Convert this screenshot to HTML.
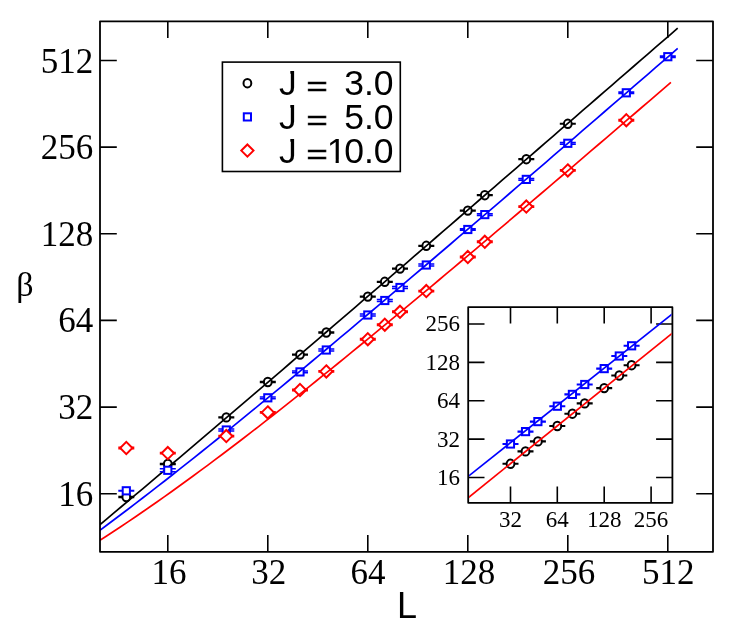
<!DOCTYPE html><html><head><meta charset="utf-8"><style>html,body{margin:0;padding:0;background:#fff;width:747px;height:638px;overflow:hidden}svg{display:block}</style></head><body><svg width="747" height="638" viewBox="0 0 747 638">
<rect width="747" height="638" fill="#fff"/>
<defs><clipPath id="cm"><rect x="100.0" y="21.3" width="613.0" height="530.5"/></clipPath><clipPath id="ci"><rect x="469.09999999999997" y="308.09999999999997" width="202.39999999999998" height="193.8"/></clipPath></defs>
<path d="M118.3,496.6h16M118.3,497.4h16" stroke="#000" stroke-width="1.5" fill="none"/>
<ellipse cx="126.3" cy="497.0" rx="3.9" ry="4.2" stroke="#000" stroke-width="2.0" fill="#fff"/>
<path d="M159.8,463.6h16M159.8,464.4h16" stroke="#000" stroke-width="1.5" fill="none"/>
<ellipse cx="167.8" cy="464.0" rx="3.9" ry="4.2" stroke="#000" stroke-width="2.0" fill="#fff"/>
<path d="M218.3,417.0h16M218.3,417.8h16" stroke="#000" stroke-width="1.5" fill="none"/>
<ellipse cx="226.3" cy="417.4" rx="3.9" ry="4.2" stroke="#000" stroke-width="2.0" fill="#fff"/>
<path d="M259.8,381.6h16M259.8,382.4h16" stroke="#000" stroke-width="1.5" fill="none"/>
<ellipse cx="267.8" cy="382.0" rx="3.9" ry="4.2" stroke="#000" stroke-width="2.0" fill="#fff"/>
<path d="M292.0,354.2h16M292.0,355.0h16" stroke="#000" stroke-width="1.5" fill="none"/>
<ellipse cx="300.0" cy="354.6" rx="3.9" ry="4.2" stroke="#000" stroke-width="2.0" fill="#fff"/>
<path d="M318.3,332.1h16M318.3,332.9h16" stroke="#000" stroke-width="1.5" fill="none"/>
<ellipse cx="326.3" cy="332.5" rx="3.9" ry="4.2" stroke="#000" stroke-width="2.0" fill="#fff"/>
<path d="M359.8,296.2h16M359.8,297.0h16" stroke="#000" stroke-width="1.5" fill="none"/>
<ellipse cx="367.8" cy="296.6" rx="3.9" ry="4.2" stroke="#000" stroke-width="2.0" fill="#fff"/>
<path d="M376.8,281.4h16M376.8,282.2h16" stroke="#000" stroke-width="1.5" fill="none"/>
<ellipse cx="384.8" cy="281.8" rx="3.9" ry="4.2" stroke="#000" stroke-width="2.0" fill="#fff"/>
<path d="M392.0,268.2h16M392.0,269.0h16" stroke="#000" stroke-width="1.5" fill="none"/>
<ellipse cx="400.0" cy="268.6" rx="3.9" ry="4.2" stroke="#000" stroke-width="2.0" fill="#fff"/>
<path d="M418.3,245.5h16M418.3,246.2h16" stroke="#000" stroke-width="1.5" fill="none"/>
<ellipse cx="426.3" cy="245.8" rx="3.9" ry="4.2" stroke="#000" stroke-width="2.0" fill="#fff"/>
<path d="M459.8,210.2h16M459.8,210.9h16" stroke="#000" stroke-width="1.5" fill="none"/>
<ellipse cx="467.8" cy="210.6" rx="3.9" ry="4.2" stroke="#000" stroke-width="2.0" fill="#fff"/>
<path d="M476.8,194.8h16M476.8,195.5h16" stroke="#000" stroke-width="1.5" fill="none"/>
<ellipse cx="484.8" cy="195.2" rx="3.9" ry="4.2" stroke="#000" stroke-width="2.0" fill="#fff"/>
<path d="M518.3,158.8h16M518.3,159.5h16" stroke="#000" stroke-width="1.5" fill="none"/>
<ellipse cx="526.3" cy="159.2" rx="3.9" ry="4.2" stroke="#000" stroke-width="2.0" fill="#fff"/>
<path d="M559.8,123.5h16M559.8,124.1h16" stroke="#000" stroke-width="1.5" fill="none"/>
<ellipse cx="567.8" cy="123.8" rx="3.9" ry="4.2" stroke="#000" stroke-width="2.0" fill="#fff"/>
<polyline clip-path="url(#cm)" fill="none" stroke-width="1.7" stroke-linejoin="round" stroke-linecap="butt" points="99.00,525.39 106.33,519.28 113.65,513.15 120.98,507.01 128.30,500.86 135.63,494.70 142.95,488.53 150.28,482.36 157.60,476.17 164.93,469.98 172.25,463.77 179.58,457.57 186.90,451.35 194.23,445.13 201.55,438.90 208.88,432.66 216.21,426.42 223.53,420.17 230.86,413.92 238.18,407.66 245.51,401.40 252.83,395.14 260.16,388.86 267.48,382.59 274.81,376.31 282.13,370.03 289.46,363.74 296.78,357.45 304.11,351.16 311.43,344.86 318.76,338.57 326.08,332.26 333.41,325.96 340.74,319.65 348.06,313.34 355.39,307.03 362.71,300.72 370.04,294.40 377.36,288.09 384.69,281.77 392.01,275.45 399.34,269.12 406.66,262.80 413.99,256.47 421.31,250.15 428.64,243.82 435.96,237.49 443.29,231.16 450.62,224.83 457.94,218.49 465.27,212.16 472.59,205.82 479.92,199.49 487.24,193.15 494.57,186.81 501.89,180.47 509.22,174.13 516.54,167.79 523.87,161.45 531.19,155.11 538.52,148.76 545.84,142.42 553.17,136.08 560.49,129.73 567.82,123.39 575.15,117.04 582.47,110.70 589.80,104.35 597.12,98.00 604.45,91.66 611.77,85.31 619.10,78.96 626.42,72.61 633.75,66.26 641.07,59.92 648.40,53.57 655.72,47.22 663.05,40.87 670.37,34.52 677.70,28.17" stroke="#000"/>
<path d="M118.3,490.5h16M118.3,491.1h16" stroke="#00f" stroke-width="1.5" fill="none"/>
<rect x="122.70" y="487.20" width="7.2" height="7.2" stroke="#00f" stroke-width="2.0" fill="#fff"/>
<path d="M159.8,468.8h16M159.8,471.8h16" stroke="#00f" stroke-width="1.5" fill="none"/>
<rect x="164.20" y="466.70" width="7.2" height="7.2" stroke="#00f" stroke-width="2.0" fill="#fff"/>
<path d="M218.3,429.1h16M218.3,430.9h16" stroke="#00f" stroke-width="1.5" fill="none"/>
<rect x="222.70" y="426.40" width="7.2" height="7.2" stroke="#00f" stroke-width="2.0" fill="#fff"/>
<path d="M259.8,396.9h16M259.8,398.7h16" stroke="#00f" stroke-width="1.5" fill="none"/>
<rect x="264.20" y="394.20" width="7.2" height="7.2" stroke="#00f" stroke-width="2.0" fill="#fff"/>
<path d="M292.0,371.0h16M292.0,372.8h16" stroke="#00f" stroke-width="1.5" fill="none"/>
<rect x="296.39" y="368.30" width="7.2" height="7.2" stroke="#00f" stroke-width="2.0" fill="#fff"/>
<path d="M318.3,349.1h16M318.3,350.9h16" stroke="#00f" stroke-width="1.5" fill="none"/>
<rect x="322.70" y="346.40" width="7.2" height="7.2" stroke="#00f" stroke-width="2.0" fill="#fff"/>
<path d="M359.8,314.1h16M359.8,315.9h16" stroke="#00f" stroke-width="1.5" fill="none"/>
<rect x="364.20" y="311.40" width="7.2" height="7.2" stroke="#00f" stroke-width="2.0" fill="#fff"/>
<path d="M376.8,299.6h16M376.8,301.4h16" stroke="#00f" stroke-width="1.5" fill="none"/>
<rect x="381.19" y="296.90" width="7.2" height="7.2" stroke="#00f" stroke-width="2.0" fill="#fff"/>
<path d="M392.0,286.6h16M392.0,288.4h16" stroke="#00f" stroke-width="1.5" fill="none"/>
<rect x="396.39" y="283.90" width="7.2" height="7.2" stroke="#00f" stroke-width="2.0" fill="#fff"/>
<path d="M418.3,264.1h16M418.3,265.9h16" stroke="#00f" stroke-width="1.5" fill="none"/>
<rect x="422.70" y="261.40" width="7.2" height="7.2" stroke="#00f" stroke-width="2.0" fill="#fff"/>
<path d="M459.8,228.7h16M459.8,230.3h16" stroke="#00f" stroke-width="1.5" fill="none"/>
<rect x="464.20" y="225.90" width="7.2" height="7.2" stroke="#00f" stroke-width="2.0" fill="#fff"/>
<path d="M476.8,213.8h16M476.8,215.4h16" stroke="#00f" stroke-width="1.5" fill="none"/>
<rect x="481.19" y="211.00" width="7.2" height="7.2" stroke="#00f" stroke-width="2.0" fill="#fff"/>
<path d="M518.3,178.6h16M518.3,180.2h16" stroke="#00f" stroke-width="1.5" fill="none"/>
<rect x="522.70" y="175.80" width="7.2" height="7.2" stroke="#00f" stroke-width="2.0" fill="#fff"/>
<path d="M559.8,142.5h16M559.8,144.2h16" stroke="#00f" stroke-width="1.5" fill="none"/>
<rect x="564.20" y="139.70" width="7.2" height="7.2" stroke="#00f" stroke-width="2.0" fill="#fff"/>
<path d="M618.3,92.0h16M618.3,93.6h16" stroke="#00f" stroke-width="1.5" fill="none"/>
<rect x="622.70" y="89.20" width="7.2" height="7.2" stroke="#00f" stroke-width="2.0" fill="#fff"/>
<path d="M659.8,55.9h16M659.8,57.6h16" stroke="#00f" stroke-width="1.5" fill="none"/>
<rect x="664.20" y="53.10" width="7.2" height="7.2" stroke="#00f" stroke-width="2.0" fill="#fff"/>
<polyline clip-path="url(#cm)" fill="none" stroke-width="1.7" stroke-linejoin="round" stroke-linecap="butt" points="99.00,530.96 106.33,525.52 113.65,520.04 120.98,514.52 128.30,508.97 135.63,503.38 142.95,497.76 150.28,492.11 157.60,486.43 164.93,480.71 172.25,474.97 179.58,469.20 186.90,463.40 194.23,457.58 201.55,451.73 208.88,445.87 216.21,439.97 223.53,434.06 230.86,428.13 238.18,422.17 245.51,416.20 252.83,410.21 260.16,404.21 267.48,398.18 274.81,392.14 282.13,386.09 289.46,380.02 296.78,373.94 304.11,367.85 311.43,361.74 318.76,355.62 326.08,349.49 333.41,343.35 340.74,337.20 348.06,331.04 355.39,324.87 362.71,318.69 370.04,312.50 377.36,306.31 384.69,300.10 392.01,293.89 399.34,287.67 406.66,281.45 413.99,275.22 421.31,268.98 428.64,262.74 435.96,256.49 443.29,250.24 450.62,243.98 457.94,237.72 465.27,231.45 472.59,225.18 479.92,218.90 487.24,212.62 494.57,206.34 501.89,200.05 509.22,193.76 516.54,187.47 523.87,181.17 531.19,174.87 538.52,168.57 545.84,162.27 553.17,155.96 560.49,149.65 567.82,143.34 575.15,137.02 582.47,130.71 589.80,124.39 597.12,118.07 604.45,111.75 611.77,105.43 619.10,99.10 626.42,92.77 633.75,86.45 641.07,80.12 648.40,73.79 655.72,67.46 663.05,61.12 670.37,54.79 677.70,48.46" stroke="#00f"/>
<path d="M118.3,447.3h16M118.3,448.7h16" stroke="#f00" stroke-width="1.5" fill="none"/>
<path d="M126.3,441.9L132.4,448.0L126.3,454.1L120.2,448.0Z" stroke="#f00" stroke-width="2.0" fill="#fff"/>
<path d="M159.8,452.4h16M159.8,453.8h16" stroke="#f00" stroke-width="1.5" fill="none"/>
<path d="M167.8,447.0L173.9,453.1L167.8,459.2L161.7,453.1Z" stroke="#f00" stroke-width="2.0" fill="#fff"/>
<path d="M218.3,435.4h16M218.3,436.8h16" stroke="#f00" stroke-width="1.5" fill="none"/>
<path d="M226.3,430.0L232.4,436.1L226.3,442.2L220.2,436.1Z" stroke="#f00" stroke-width="2.0" fill="#fff"/>
<path d="M259.8,411.7h16M259.8,413.1h16" stroke="#f00" stroke-width="1.5" fill="none"/>
<path d="M267.8,406.3L273.9,412.4L267.8,418.5L261.7,412.4Z" stroke="#f00" stroke-width="2.0" fill="#fff"/>
<path d="M292.0,389.3h16M292.0,390.7h16" stroke="#f00" stroke-width="1.5" fill="none"/>
<path d="M300.0,383.9L306.1,390.0L300.0,396.1L293.9,390.0Z" stroke="#f00" stroke-width="2.0" fill="#fff"/>
<path d="M318.3,370.7h16M318.3,372.1h16" stroke="#f00" stroke-width="1.5" fill="none"/>
<path d="M326.3,365.3L332.4,371.4L326.3,377.5L320.2,371.4Z" stroke="#f00" stroke-width="2.0" fill="#fff"/>
<path d="M359.8,338.5h16M359.8,339.9h16" stroke="#f00" stroke-width="1.5" fill="none"/>
<path d="M367.8,333.1L373.9,339.2L367.8,345.3L361.7,339.2Z" stroke="#f00" stroke-width="2.0" fill="#fff"/>
<path d="M376.8,324.0h16M376.8,325.4h16" stroke="#f00" stroke-width="1.5" fill="none"/>
<path d="M384.8,318.6L390.9,324.7L384.8,330.8L378.7,324.7Z" stroke="#f00" stroke-width="2.0" fill="#fff"/>
<path d="M392.0,311.1h16M392.0,312.5h16" stroke="#f00" stroke-width="1.5" fill="none"/>
<path d="M400.0,305.7L406.1,311.8L400.0,317.9L393.9,311.8Z" stroke="#f00" stroke-width="2.0" fill="#fff"/>
<path d="M418.3,290.4h16M418.3,291.8h16" stroke="#f00" stroke-width="1.5" fill="none"/>
<path d="M426.3,285.0L432.4,291.1L426.3,297.2L420.2,291.1Z" stroke="#f00" stroke-width="2.0" fill="#fff"/>
<path d="M459.8,256.3h16M459.8,257.7h16" stroke="#f00" stroke-width="1.5" fill="none"/>
<path d="M467.8,250.9L473.9,257.0L467.8,263.1L461.7,257.0Z" stroke="#f00" stroke-width="2.0" fill="#fff"/>
<path d="M476.8,241.1h16M476.8,242.5h16" stroke="#f00" stroke-width="1.5" fill="none"/>
<path d="M484.8,235.7L490.9,241.8L484.8,247.9L478.7,241.8Z" stroke="#f00" stroke-width="2.0" fill="#fff"/>
<path d="M518.3,205.9h16M518.3,207.3h16" stroke="#f00" stroke-width="1.5" fill="none"/>
<path d="M526.3,200.5L532.4,206.6L526.3,212.7L520.2,206.6Z" stroke="#f00" stroke-width="2.0" fill="#fff"/>
<path d="M559.8,169.7h16M559.8,171.1h16" stroke="#f00" stroke-width="1.5" fill="none"/>
<path d="M567.8,164.3L573.9,170.4L567.8,176.5L561.7,170.4Z" stroke="#f00" stroke-width="2.0" fill="#fff"/>
<path d="M618.3,119.5h16M618.3,120.9h16" stroke="#f00" stroke-width="1.5" fill="none"/>
<path d="M626.3,114.1L632.4,120.2L626.3,126.3L620.2,120.2Z" stroke="#f00" stroke-width="2.0" fill="#fff"/>
<polyline clip-path="url(#cm)" fill="none" stroke-width="1.7" stroke-linejoin="round" stroke-linecap="butt" points="99.00,540.91 106.24,536.24 113.48,531.51 120.72,526.72 127.96,521.88 135.20,516.98 142.44,512.03 149.67,507.03 156.91,501.97 164.15,496.87 171.39,491.72 178.63,486.53 185.87,481.29 193.11,476.01 200.35,470.69 207.59,465.33 214.83,459.93 222.07,454.49 229.31,449.02 236.55,443.51 243.78,437.97 251.02,432.40 258.26,426.80 265.50,421.17 272.74,415.51 279.98,409.83 287.22,404.11 294.46,398.38 301.70,392.62 308.94,386.83 316.18,381.03 323.42,375.20 330.66,369.35 337.89,363.48 345.13,357.60 352.37,351.70 359.61,345.78 366.85,339.84 374.09,333.89 381.33,327.92 388.57,321.94 395.81,315.95 403.05,309.94 410.29,303.92 417.53,297.89 424.77,291.85 432.01,285.80 439.24,279.74 446.48,273.66 453.72,267.58 460.96,261.49 468.20,255.39 475.44,249.28 482.68,243.17 489.92,237.04 497.16,230.91 504.40,224.78 511.64,218.64 518.88,212.49 526.12,206.33 533.35,200.17 540.59,194.01 547.83,187.84 555.07,181.66 562.31,175.48 569.55,169.30 576.79,163.11 584.03,156.92 591.27,150.72 598.51,144.52 605.75,138.32 612.99,132.11 620.23,125.91 627.46,119.69 634.70,113.48 641.94,107.26 649.18,101.04 656.42,94.82 663.66,88.59 670.90,82.37" stroke="#f00"/>
<rect x="100.0" y="21.3" width="613.0" height="530.5" fill="none" stroke="#000" stroke-width="1.8" stroke-linejoin="round"/>
<path d="M167.8,551.8v-16.8M167.8,21.3v16.8M267.8,551.8v-16.8M267.8,21.3v16.8M367.8,551.8v-16.8M367.8,21.3v16.8M467.8,551.8v-16.8M467.8,21.3v16.8M567.8,551.8v-16.8M567.8,21.3v16.8M667.8,551.8v-16.8M667.8,21.3v16.8M100.0,493.7h16.8M713.0,493.7h-16.8M100.0,407.1h16.8M713.0,407.1h-16.8M100.0,320.4h16.8M713.0,320.4h-16.8M100.0,233.8h16.8M713.0,233.8h-16.8M100.0,147.1h16.8M713.0,147.1h-16.8M100.0,60.5h16.8M713.0,60.5h-16.8" stroke="#000" stroke-width="1.6" fill="none"/>
<g font-family="Liberation Serif, serif" font-size="35" fill="#000">
<text x="169.0" y="584" text-anchor="middle">16</text>
<text x="268.8" y="584" text-anchor="middle">32</text>
<text x="367.9" y="584" text-anchor="middle">64</text>
<text x="468.9" y="584" text-anchor="middle">128</text>
<text x="568.9" y="584" text-anchor="middle">256</text>
<text x="668.3" y="584" text-anchor="middle">512</text>
<text x="93.2" y="505.7" text-anchor="end">16</text>
<text x="93.2" y="419.1" text-anchor="end">32</text>
<text x="93.2" y="332.4" text-anchor="end">64</text>
<text x="93.2" y="245.8" text-anchor="end">128</text>
<text x="93.2" y="159.1" text-anchor="end">256</text>
<text x="93.2" y="72.5" text-anchor="end">512</text>
</g>
<text x="24.8" y="296" font-family="Liberation Serif, serif" font-size="34" text-anchor="middle">β</text>
<text x="407" y="617.8" font-family="Liberation Sans, sans-serif" font-size="36" text-anchor="middle">L</text>
<rect x="222.4" y="62.1" width="177.9" height="109.4" fill="#fff" stroke="#000" stroke-width="1.6"/>
<ellipse cx="247.4" cy="83.2" rx="3.9" ry="4.2" stroke="#000" stroke-width="2.0" fill="#fff"/>
<rect x="243.80" y="113.30" width="7.2" height="7.2" stroke="#00f" stroke-width="2.0" fill="#fff"/>
<path d="M247.4,144.5L253.5,150.6L247.4,156.7L241.3,150.6Z" stroke="#f00" stroke-width="2.0" fill="#fff"/>
<text x="279.0" y="95.1" clip-path="url(#cj0)" font-family="Liberation Sans, sans-serif" font-size="35.5">J</text>
<text transform="translate(306.5,96.30) scale(1.02,0.8)" font-family="Liberation Sans, sans-serif" font-size="35.5" stroke="#000" stroke-width="0.85">=</text>
<text x="393.6" y="95.1" font-family="Liberation Sans, sans-serif" font-size="35.5" text-anchor="end">3.0</text>
<text x="279.0" y="129.0" clip-path="url(#cj1)" font-family="Liberation Sans, sans-serif" font-size="35.5">J</text>
<text transform="translate(306.5,130.20) scale(1.02,0.8)" font-family="Liberation Sans, sans-serif" font-size="35.5" stroke="#000" stroke-width="0.85">=</text>
<text x="393.6" y="129.0" font-family="Liberation Sans, sans-serif" font-size="35.5" text-anchor="end">5.0</text>
<text x="279.0" y="162.8" clip-path="url(#cj2)" font-family="Liberation Sans, sans-serif" font-size="35.5">J</text>
<text transform="translate(306.5,164.00) scale(1.02,0.8)" font-family="Liberation Sans, sans-serif" font-size="35.5" stroke="#000" stroke-width="0.85">=</text>
<text x="326.7" y="162.8" clip-path="url(#c1)" font-family="Liberation Sans, sans-serif" font-size="35.5">1</text>
<text x="393.6" y="162.8" font-family="Liberation Sans, sans-serif" font-size="35.5" text-anchor="end">0.0</text>
<defs><clipPath id="cj0"><rect x="0" y="74.28" width="747" height="60"/><rect x="290.32" y="0" width="200" height="115.1"/></clipPath><clipPath id="cj1"><rect x="0" y="108.18" width="747" height="60"/><rect x="290.32" y="0" width="200" height="149.0"/></clipPath><clipPath id="cj2"><rect x="0" y="141.98" width="747" height="60"/><rect x="290.32" y="0" width="200" height="182.8"/></clipPath><clipPath id="c1"><rect x="0" y="0" width="747" height="159.75"/><rect x="335.63" y="0" width="3.14" height="182.8"/></clipPath></defs>
<rect x="468.2" y="307.2" width="204.2" height="195.60000000000002" fill="#fff" stroke="none"/>
<path d="M502.5,463.5h16M502.5,464.1h16" stroke="#000" stroke-width="1.5" fill="none"/>
<ellipse cx="510.5" cy="463.8" rx="3.9" ry="4.2" stroke="#000" stroke-width="2.0" fill="#fff"/>
<path d="M517.5,451.1h16M517.5,451.7h16" stroke="#000" stroke-width="1.5" fill="none"/>
<ellipse cx="525.5" cy="451.4" rx="3.9" ry="4.2" stroke="#000" stroke-width="2.0" fill="#fff"/>
<path d="M529.9,441.1h16M529.9,441.7h16" stroke="#000" stroke-width="1.5" fill="none"/>
<ellipse cx="537.9" cy="441.4" rx="3.9" ry="4.2" stroke="#000" stroke-width="2.0" fill="#fff"/>
<path d="M549.3,425.7h16M549.3,426.3h16" stroke="#000" stroke-width="1.5" fill="none"/>
<ellipse cx="557.3" cy="426.0" rx="3.9" ry="4.2" stroke="#000" stroke-width="2.0" fill="#fff"/>
<path d="M564.4,413.4h16M564.4,414.0h16" stroke="#000" stroke-width="1.5" fill="none"/>
<ellipse cx="572.4" cy="413.7" rx="3.9" ry="4.2" stroke="#000" stroke-width="2.0" fill="#fff"/>
<path d="M576.7,403.1h16M576.7,403.7h16" stroke="#000" stroke-width="1.5" fill="none"/>
<ellipse cx="584.7" cy="403.4" rx="3.9" ry="4.2" stroke="#000" stroke-width="2.0" fill="#fff"/>
<path d="M596.2,387.8h16M596.2,388.4h16" stroke="#000" stroke-width="1.5" fill="none"/>
<ellipse cx="604.2" cy="388.1" rx="3.9" ry="4.2" stroke="#000" stroke-width="2.0" fill="#fff"/>
<path d="M611.3,375.2h16M611.3,375.8h16" stroke="#000" stroke-width="1.5" fill="none"/>
<ellipse cx="619.3" cy="375.5" rx="3.9" ry="4.2" stroke="#000" stroke-width="2.0" fill="#fff"/>
<path d="M623.6,364.9h16M623.6,365.5h16" stroke="#000" stroke-width="1.5" fill="none"/>
<ellipse cx="631.6" cy="365.2" rx="3.9" ry="4.2" stroke="#000" stroke-width="2.0" fill="#fff"/>
<path d="M502.5,443.7h16M502.5,444.3h16" stroke="#00f" stroke-width="1.5" fill="none"/>
<rect x="506.86" y="440.40" width="7.2" height="7.2" stroke="#00f" stroke-width="2.0" fill="#fff"/>
<path d="M517.5,431.3h16M517.5,431.9h16" stroke="#00f" stroke-width="1.5" fill="none"/>
<rect x="521.95" y="428.00" width="7.2" height="7.2" stroke="#00f" stroke-width="2.0" fill="#fff"/>
<path d="M529.9,421.3h16M529.9,421.9h16" stroke="#00f" stroke-width="1.5" fill="none"/>
<rect x="534.28" y="418.00" width="7.2" height="7.2" stroke="#00f" stroke-width="2.0" fill="#fff"/>
<path d="M549.3,405.9h16M549.3,406.5h16" stroke="#00f" stroke-width="1.5" fill="none"/>
<rect x="553.73" y="402.60" width="7.2" height="7.2" stroke="#00f" stroke-width="2.0" fill="#fff"/>
<path d="M564.4,394.1h16M564.4,394.7h16" stroke="#00f" stroke-width="1.5" fill="none"/>
<rect x="568.82" y="390.80" width="7.2" height="7.2" stroke="#00f" stroke-width="2.0" fill="#fff"/>
<path d="M576.7,384.2h16M576.7,384.8h16" stroke="#00f" stroke-width="1.5" fill="none"/>
<rect x="581.15" y="380.90" width="7.2" height="7.2" stroke="#00f" stroke-width="2.0" fill="#fff"/>
<path d="M596.2,368.3h16M596.2,368.9h16" stroke="#00f" stroke-width="1.5" fill="none"/>
<rect x="600.60" y="365.00" width="7.2" height="7.2" stroke="#00f" stroke-width="2.0" fill="#fff"/>
<path d="M611.3,355.7h16M611.3,356.3h16" stroke="#00f" stroke-width="1.5" fill="none"/>
<rect x="615.69" y="352.40" width="7.2" height="7.2" stroke="#00f" stroke-width="2.0" fill="#fff"/>
<path d="M623.6,345.5h16M623.6,346.1h16" stroke="#00f" stroke-width="1.5" fill="none"/>
<rect x="628.02" y="342.20" width="7.2" height="7.2" stroke="#00f" stroke-width="2.0" fill="#fff"/>
<rect x="468.2" y="307.2" width="204.2" height="195.60000000000002" fill="none" stroke="#000" stroke-width="1.8" stroke-linejoin="round"/>
<path d="M510.5,502.8v-16.3M510.5,307.2v16.3M557.3,502.8v-16.3M557.3,307.2v16.3M604.2,502.8v-16.3M604.2,307.2v16.3M651.1,502.8v-16.3M651.1,307.2v16.3M468.2,477.5h16.3M672.4,477.5h-16.3M468.2,439.1h16.3M672.4,439.1h-16.3M468.2,400.7h16.3M672.4,400.7h-16.3M468.2,362.4h16.3M672.4,362.4h-16.3M468.2,324.0h16.3M672.4,324.0h-16.3" stroke="#000" stroke-width="1.6" fill="none"/>
<g clip-path="url(#ci)" fill="none" stroke-width="1.7">
<line x1="468.2" y1="476.4" x2="672.4" y2="313.8" stroke="#00f"/>
<line x1="468.2" y1="497.7" x2="672.4" y2="333.1" stroke="#f00"/>
</g>
<g font-family="Liberation Serif, serif" font-size="23" fill="#000">
<text x="510.5" y="527" text-anchor="middle">32</text>
<text x="557.3" y="527" text-anchor="middle">64</text>
<text x="604.2" y="527" text-anchor="middle">128</text>
<text x="651.1" y="527" text-anchor="middle">256</text>
<text x="460" y="484.9" text-anchor="end">16</text>
<text x="460" y="446.5" text-anchor="end">32</text>
<text x="460" y="408.1" text-anchor="end">64</text>
<text x="460" y="369.8" text-anchor="end">128</text>
<text x="460" y="331.4" text-anchor="end">256</text>
</g>
</svg></body></html>
